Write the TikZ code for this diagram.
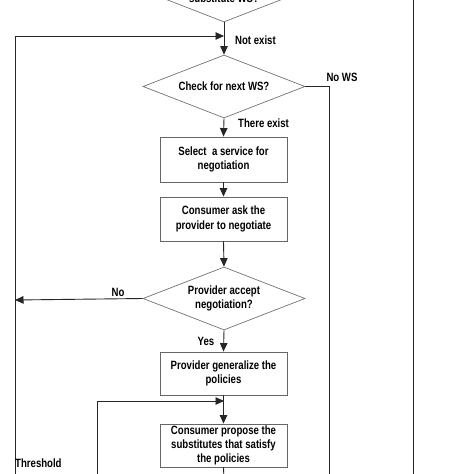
\documentclass[tikz,border=0pt]{standalone}
\usepackage{fontspec}
\setmainfont{Liberation Sans}[FakeStretch=0.8]
\usetikzlibrary{shapes.geometric,arrows.meta}
\begin{document}
\begin{tikzpicture}[x=1pt,y=-1pt,
  txt/.style={font=\fontsize{12}{14.2}\selectfont\bfseries, text=black},
  procbox/.style={draw=black!60, line width=0.9pt, minimum width=127pt, inner sep=0pt, align=center, txt, fill=white},
  decision/.style={diamond, shape aspect=2.57, draw=black!55, line width=0.7pt, minimum width=162pt, minimum height=63pt, inner sep=0pt, align=center, txt},
  flow/.style={draw=black!85, line width=0.9pt},
  arr/.style={flow, -{Triangle[length=8.5pt,width=7.5pt]}},
  lbl/.style={txt, inner sep=0pt}
]
\useasboundingbox (0,0) rectangle (474,474);
\clip (0,0) rectangle (474,474);
\fill[white] (0,0) rectangle (474,474);

% decisions
\node[decision] (d0) at (224,-9.5) {};
\node[lbl] (d0t) at (224,-2) {substitute WS?};
\node[decision] (d1) at (224,86.5) {Check for next WS?};
\node[decision] (d3) at (224,298.5) {Provider accept\\negotiation?};

% boxes
\node[procbox, minimum height=45pt] (b1) at (223.5,159.5) {Select\ \ a service for\\negotiation};
\node[procbox, minimum height=44pt] (b2) at (223.5,219) {Consumer ask the\\provider to negotiate};
\node[procbox, minimum height=43pt] (b3) at (223.5,373.5) {Provider generalize the\\policies};
\node[procbox, minimum height=43pt] (b4) at (223.5,445.5) {Consumer propose the\\substitutes that satisfy\\the policies};

% coordinates
\coordinate (j1) at (224,36);
\coordinate (lb) at (15,480);
\coordinate (ln) at (15,300);
\coordinate (rb) at (329,480);
\coordinate (rt) at (413,-5);
\coordinate (rtb) at (413,480);
\coordinate (j2) at (224,401);
\coordinate (mb) at (97,480);
\coordinate (cb) at (224,480);

% connectors
\draw[arr] (d0.south) -- (d1.north);
\draw[arr] (lb) |- (j1);
\draw[flow] (d1.east) -| (rb);
\draw[flow] (rt) -- (rtb);
\draw[arr] (d1.south) -- (b1.north);
\draw[arr] (b1.south) -- (b2.north);
\draw[arr] (b2.south) -- (d3.north);
\draw[arr] (d3.west) -- (ln);
\draw[arr] (d3.south) -- (b3.north);
\draw[arr] (b3.south) -- (b4.north);
\draw[arr] (mb) |- (j2);
\draw[flow] (b4.south) -- (cb);

% labels
\node[lbl, anchor=west] (l1) at (235,40) {Not exist};
\node[lbl] (l2) at (342,77) {No WS};
\node[lbl, anchor=west] (l3) at (238,123) {There exist};
\node[lbl] (l4) at (118,292) {No};
\node[lbl] (l5) at (206,341) {Yes};
\node[lbl, anchor=west] (l6) at (15,463) {Threshold};
\end{tikzpicture}
\end{document}
